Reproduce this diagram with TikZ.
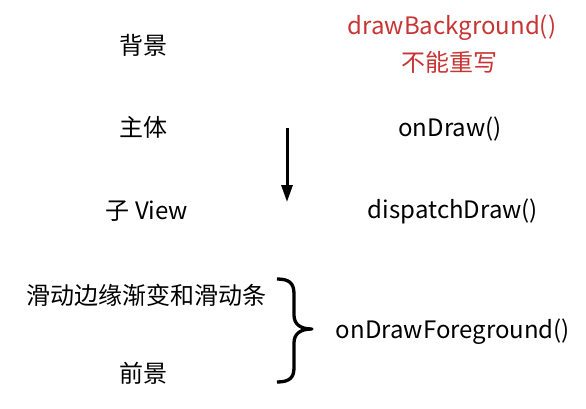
\documentclass[tikz,border=0pt]{standalone}
\usepackage{fontspec}
\setmainfont{Noto Sans CJK SC}
\usetikzlibrary{arrows.meta}
\definecolor{redtxt}{RGB}{200,52,52}
\begin{document}
\begin{tikzpicture}[x=1pt,y=-1pt,
  lbl/.style={inner sep=0pt,font=\fontsize{24}{28}\selectfont,text=black},
  redlbl/.style={lbl,text=redtxt}]
\useasboundingbox (0,0) rectangle (586,409);
\node[lbl] (bg) at (143,45) {背景};
\node[redlbl] (dbg) at (452,28) {drawBackground()};
\node[redlbl] (nocw) at (449,62) {不能重写};
\node[lbl] (main) at (143,127) {主体};
\node[lbl] (ondraw) at (450,129) {onDraw()};
\node[lbl] (child) at (147,211) {子 View};
\node[lbl] (disp) at (453,211) {dispatchDraw()};
\node[lbl] (scroll) at (147,295) {滑动边缘渐变和滑动条};
\node[lbl] (fg) at (143,373) {前景};
\node[lbl] (odf) at (453,332) {onDrawForeground()};
\coordinate (atop) at (287,128);
\coordinate (abot) at (287,202);
\draw[line width=3pt,-{Triangle[length=17pt,width=11pt]}] (atop) -- (abot);
\coordinate (btop) at (277,279);
\coordinate (btip) at (312,329);
\coordinate (bbot) at (277,382);
\draw[line width=3.3pt,line join=round] (btop) .. controls (289,279) and (294,283) .. (294,294)
  -- (294,315) .. controls (294,324) and (300,329) .. (btip)
  .. controls (300,329) and (294,334) .. (294,343)
  -- (294,368) .. controls (294,378) and (289,382) .. (bbot);
\end{tikzpicture}
\end{document}
